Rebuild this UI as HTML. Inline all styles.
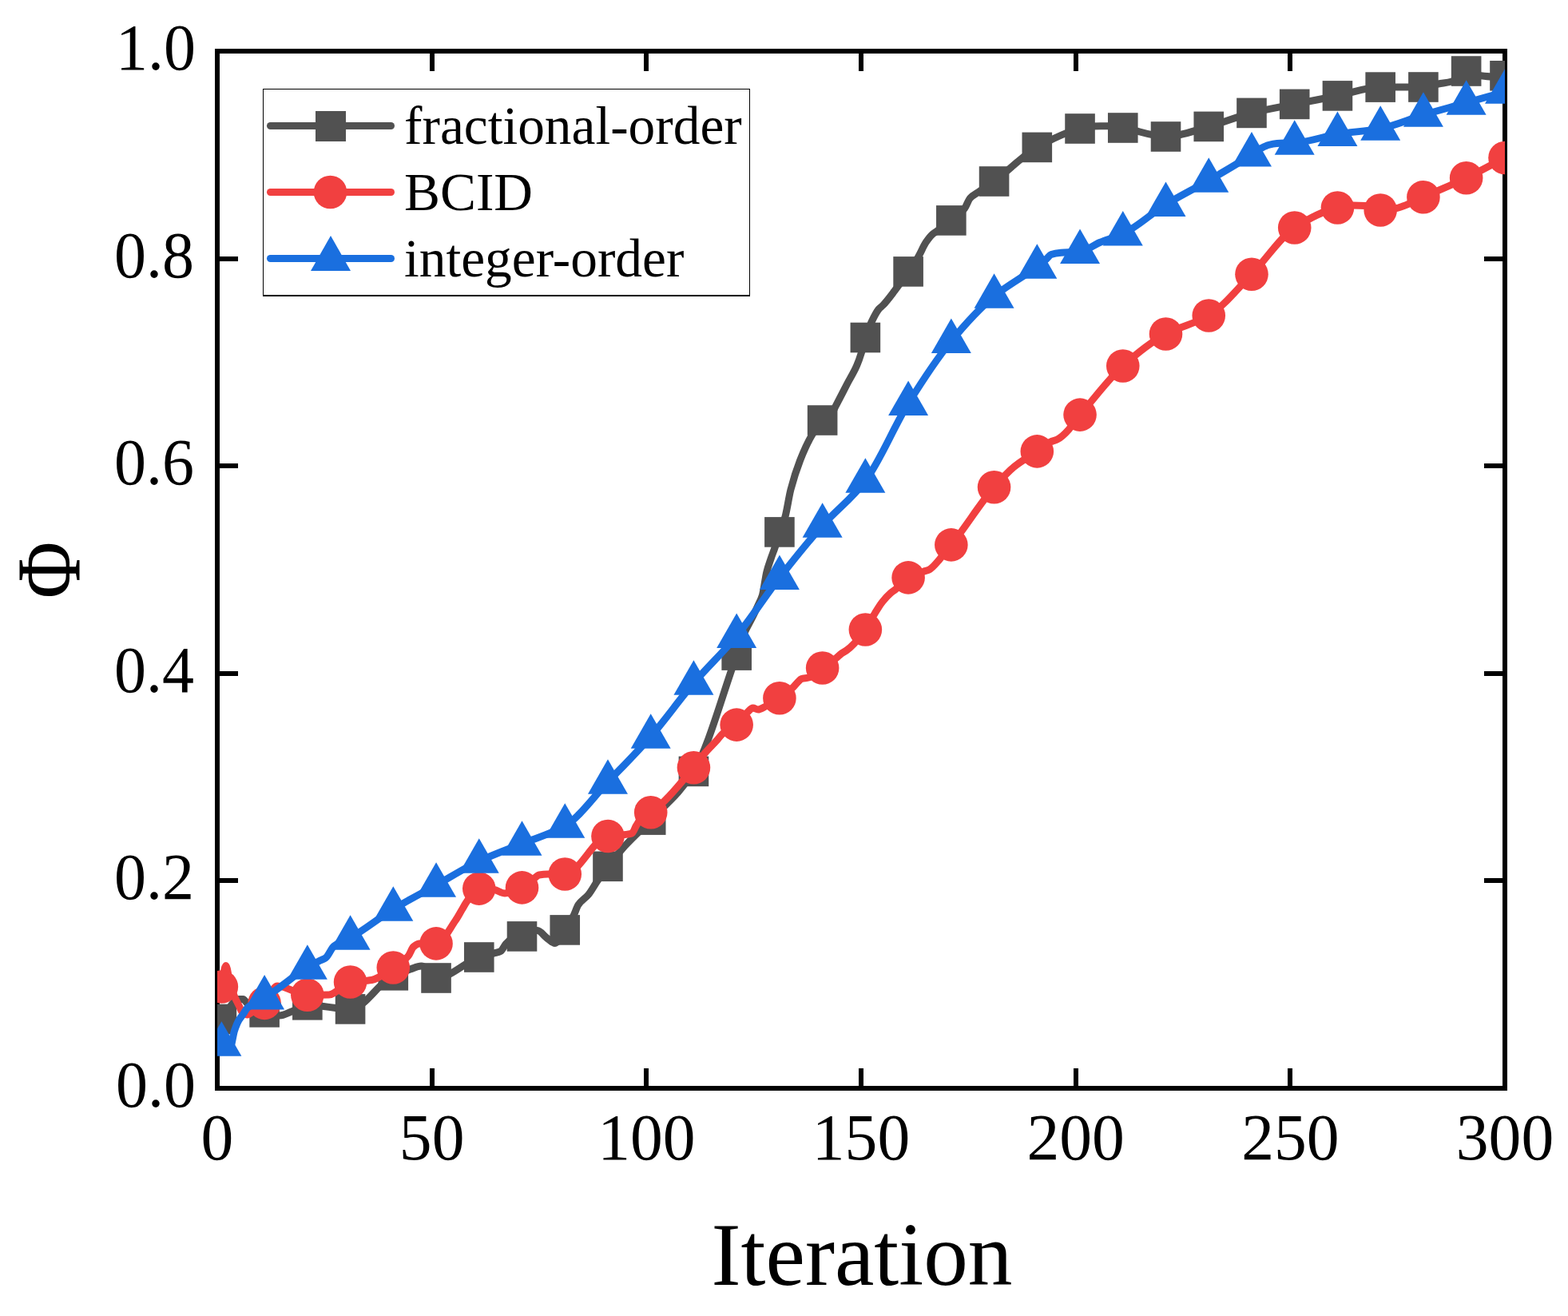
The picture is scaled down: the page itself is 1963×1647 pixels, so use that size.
<!DOCTYPE html>
<html lang="en"><head><meta charset="utf-8"><title>Phi vs Iteration</title>
<style>
html,body{margin:0;padding:0;background:#fff;}
body{width:1963px;height:1647px;overflow:hidden;}
svg{display:block;}
text{font-family:"Liberation Serif","Times New Roman",Times,serif;fill:#000;}
</style></head><body>
<svg width="1963" height="1647" viewBox="0 0 1963 1647" role="img" aria-label="Phi versus Iteration for fractional-order, BCID and integer-order">
<rect x="0" y="0" width="1963" height="1647" fill="#fff"/>
<defs><clipPath id="plotclip"><rect x="272" y="64" width="1612" height="1298"/></clipPath></defs>
<g id="axes" stroke="#000" stroke-width="6" fill="none" shape-rendering="crispEdges">
<rect x="272" y="64" width="1612" height="1298"/>
<line x1="541" y1="1362" x2="541" y2="1337"/>
<line x1="541" y1="64" x2="541" y2="89"/>
<line x1="809" y1="1362" x2="809" y2="1337"/>
<line x1="809" y1="64" x2="809" y2="89"/>
<line x1="1078" y1="1362" x2="1078" y2="1337"/>
<line x1="1078" y1="64" x2="1078" y2="89"/>
<line x1="1347" y1="1362" x2="1347" y2="1337"/>
<line x1="1347" y1="64" x2="1347" y2="89"/>
<line x1="1615" y1="1362" x2="1615" y2="1337"/>
<line x1="1615" y1="64" x2="1615" y2="89"/>
<line x1="272" y1="1102" x2="298" y2="1102"/>
<line x1="1884" y1="1102" x2="1858" y2="1102"/>
<line x1="272" y1="843" x2="298" y2="843"/>
<line x1="1884" y1="843" x2="1858" y2="843"/>
<line x1="272" y1="583" x2="298" y2="583"/>
<line x1="1884" y1="583" x2="1858" y2="583"/>
<line x1="272" y1="324" x2="298" y2="324"/>
<line x1="1884" y1="324" x2="1858" y2="324"/>
</g>
<g id="xticklabels" font-size="81.6" text-anchor="middle">
<text x="272.00" y="1450.8">0</text>
<text x="540.67" y="1450.8">50</text>
<text x="809.33" y="1450.8">100</text>
<text x="1078.00" y="1450.8">150</text>
<text x="1346.67" y="1450.8">200</text>
<text x="1615.33" y="1450.8">250</text>
<text x="1884.00" y="1450.8">300</text>
</g>
<g id="yticklabels" font-size="81.6" text-anchor="end">
<text transform="translate(245.00 1385.00) scale(0.98 1)">0.0</text>
<text transform="translate(243.00 1125.40) scale(0.98 1)">0.2</text>
<text transform="translate(243.00 865.80) scale(0.98 1)">0.4</text>
<text transform="translate(243.00 606.20) scale(0.98 1)">0.6</text>
<text transform="translate(243.00 346.60) scale(0.98 1)">0.8</text>
<text transform="translate(245.00 87.00) scale(0.98 1)">1.0</text>
</g>
<text id="xtitle" x="1079" y="1608" font-size="111.3" text-anchor="middle">Iteration</text>
<text id="ytitle" transform="translate(98.6 713.4) rotate(-90) scale(0.874 1.03)" font-size="111.3" text-anchor="middle">Φ</text>
<g id="data" clip-path="url(#plotclip)">
<g id="s-gray" fill="#515151">
<path d="M277.37 1275.50 C284.54 1267.17 291.70 1250.50 298.87 1250.50 C300.66 1250.50 302.45 1250.50 304.24 1250.50 C306.03 1250.50 307.82 1254.09 309.61 1256.00 C311.40 1257.91 313.20 1261.05 314.99 1262.00 C320.36 1264.84 325.73 1265.53 331.11 1266.90 C337.38 1268.50 343.64 1271.00 349.91 1271.00 C354.93 1271.00 359.94 1267.84 364.96 1266.00 C371.59 1263.57 378.21 1257.80 384.84 1257.80 C402.75 1257.80 420.66 1262.90 438.57 1262.90 C456.48 1262.90 474.40 1229.24 492.31 1220.80 C499.47 1217.42 506.64 1215.33 513.80 1213.00 C518.28 1211.55 522.76 1209.00 527.23 1209.00 C530.82 1209.00 534.40 1211.52 537.98 1214.00 C540.67 1215.86 543.35 1224.00 546.04 1224.00 C563.95 1224.00 581.86 1203.87 599.77 1198.00 C606.04 1195.94 612.31 1194.81 618.58 1193.00 C621.27 1192.22 623.95 1191.88 626.64 1190.50 C628.97 1189.31 631.30 1183.41 633.63 1181.00 C636.67 1177.85 639.72 1174.28 642.76 1173.50 C646.34 1172.58 649.92 1172.64 653.51 1171.90 C659.95 1170.57 666.40 1164.50 672.85 1164.50 C676.61 1164.50 680.37 1170.80 684.13 1173.50 C687.72 1176.07 691.30 1180.50 694.88 1180.50 C697.21 1180.50 699.54 1176.94 701.87 1174.00 C703.66 1171.74 705.45 1167.09 707.24 1163.90 C711.00 1157.19 714.76 1152.47 718.52 1145.00 C720.32 1141.44 722.11 1135.16 723.90 1132.50 C728.20 1126.11 732.49 1124.76 736.79 1119.50 C740.38 1115.11 743.96 1108.24 747.54 1103.00 C752.02 1096.45 756.50 1090.11 760.97 1084.30 C768.14 1075.01 775.30 1066.38 782.47 1058.50 C793.21 1046.67 803.96 1037.48 814.71 1026.10 C832.62 1007.14 850.53 993.94 868.44 965.40 C886.35 936.86 904.26 869.58 922.17 820.10 C925.76 810.20 929.34 798.09 932.92 790.00 C934.71 785.96 936.50 783.00 938.29 779.50 C940.08 776.00 941.88 772.66 943.67 769.00 C945.46 765.34 947.25 761.49 949.04 757.50 C950.83 753.51 952.62 750.82 954.41 745.00 C956.20 739.18 958.00 723.14 959.79 716.00 C961.58 708.86 963.37 704.31 965.16 699.00 C966.95 693.69 968.74 689.47 970.53 684.00 C972.32 678.53 974.12 671.30 975.91 665.90 C978.24 658.88 980.56 655.10 982.89 647.00 C985.22 638.90 987.55 622.04 989.88 613.00 C993.82 597.70 997.76 586.07 1001.70 576.00 C1006.53 563.64 1011.37 553.21 1016.21 545.00 C1020.68 537.40 1025.16 529.94 1029.64 526.00 C1033.22 522.85 1036.80 522.63 1040.39 519.00 C1042.36 517.01 1044.33 511.72 1046.30 508.00 C1051.13 498.86 1055.97 489.27 1060.81 480.00 C1064.75 472.45 1068.69 466.61 1072.63 457.50 C1074.60 452.94 1076.57 447.39 1078.54 441.00 C1080.15 435.77 1081.76 427.51 1083.37 422.50 C1085.88 414.71 1088.39 408.60 1090.90 403.30 C1093.94 396.87 1096.99 390.63 1100.03 387.00 C1101.82 384.87 1103.61 383.86 1105.40 382.00 C1110.24 376.97 1115.08 370.35 1119.91 364.00 C1125.64 356.47 1131.38 348.17 1137.11 339.90 C1141.32 333.83 1145.52 328.25 1149.73 321.20 C1152.87 315.95 1156.00 307.98 1159.14 303.30 C1161.82 299.29 1164.51 295.68 1167.20 293.30 C1168.99 291.72 1170.78 290.86 1172.57 289.50 C1175.97 286.92 1179.38 283.43 1182.78 281.00 C1185.47 279.08 1188.15 277.85 1190.84 275.90 C1196.39 271.86 1201.94 268.05 1207.50 261.00 C1209.83 258.05 1212.15 250.51 1214.48 248.00 C1218.42 243.75 1222.36 242.27 1226.30 239.50 C1232.39 235.22 1238.48 231.42 1244.57 227.00 C1262.48 214.00 1280.40 194.47 1298.31 184.40 C1316.22 174.33 1334.13 165.36 1352.04 161.00 C1357.41 159.69 1362.79 158.10 1368.16 158.00 C1375.32 157.87 1382.49 157.80 1389.65 157.80 C1395.03 157.80 1400.40 159.15 1405.77 160.00 C1423.68 162.83 1441.60 171.00 1459.51 171.00 C1477.42 171.00 1495.33 163.22 1513.24 158.40 C1531.15 153.58 1549.06 145.85 1566.97 141.40 C1584.88 136.95 1602.80 133.98 1620.71 130.40 C1638.62 126.82 1656.53 123.45 1674.44 119.90 C1692.35 116.35 1710.26 109.17 1728.17 109.10 C1746.08 109.03 1764.00 109.08 1781.91 109.00 C1788.18 108.97 1794.44 106.22 1800.71 105.00 C1806.27 103.92 1811.82 103.52 1817.37 102.00 C1820.77 101.07 1824.18 99.26 1827.58 97.00 C1830.27 95.21 1832.95 89.00 1835.64 89.00 C1839.22 89.00 1842.80 91.97 1846.39 93.00 C1848.89 93.72 1851.40 94.47 1853.91 94.80 C1858.57 95.42 1863.22 96.00 1867.88 96.00 C1873.25 96.00 1878.63 95.20 1884.00 94.80" fill="none" stroke="#515151" stroke-width="9" stroke-linejoin="round" stroke-linecap="round"/>
<rect x="258.57" y="1256.70" width="37.60" height="37.60"/>
<rect x="312.31" y="1248.10" width="37.60" height="37.60"/>
<rect x="366.04" y="1239.00" width="37.60" height="37.60"/>
<rect x="419.77" y="1244.10" width="37.60" height="37.60"/>
<rect x="473.51" y="1202.00" width="37.60" height="37.60"/>
<rect x="527.24" y="1205.20" width="37.60" height="37.60"/>
<rect x="580.97" y="1179.20" width="37.60" height="37.60"/>
<rect x="634.71" y="1153.10" width="37.60" height="37.60"/>
<rect x="688.44" y="1145.10" width="37.60" height="37.60"/>
<rect x="742.17" y="1065.50" width="37.60" height="37.60"/>
<rect x="795.91" y="1007.30" width="37.60" height="37.60"/>
<rect x="849.64" y="946.60" width="37.60" height="37.60"/>
<rect x="903.37" y="801.30" width="37.60" height="37.60"/>
<rect x="957.11" y="647.10" width="37.60" height="37.60"/>
<rect x="1010.84" y="507.20" width="37.60" height="37.60"/>
<rect x="1064.57" y="403.70" width="37.60" height="37.60"/>
<rect x="1118.31" y="321.10" width="37.60" height="37.60"/>
<rect x="1172.04" y="257.10" width="37.60" height="37.60"/>
<rect x="1225.77" y="208.20" width="37.60" height="37.60"/>
<rect x="1279.51" y="165.60" width="37.60" height="37.60"/>
<rect x="1333.24" y="142.20" width="37.60" height="37.60"/>
<rect x="1386.97" y="141.20" width="37.60" height="37.60"/>
<rect x="1440.71" y="152.20" width="37.60" height="37.60"/>
<rect x="1494.44" y="139.60" width="37.60" height="37.60"/>
<rect x="1548.17" y="122.60" width="37.60" height="37.60"/>
<rect x="1601.91" y="111.60" width="37.60" height="37.60"/>
<rect x="1655.64" y="101.10" width="37.60" height="37.60"/>
<rect x="1709.37" y="90.30" width="37.60" height="37.60"/>
<rect x="1763.11" y="90.20" width="37.60" height="37.60"/>
<rect x="1816.84" y="70.20" width="37.60" height="37.60"/>
<rect x="1865.20" y="76.00" width="37.60" height="37.60"/>
</g>
<g id="s-red" fill="#F14040">
<path d="M277.37 1235.00 C279.16 1226.17 280.96 1208.50 282.75 1208.50 C284.54 1208.50 286.33 1225.90 288.12 1232.00 C289.91 1238.10 291.70 1242.77 293.49 1247.00 C295.28 1251.23 297.08 1254.51 298.87 1258.00 C300.66 1261.49 302.45 1266.89 304.24 1268.00 C306.03 1269.11 307.82 1270.00 309.61 1270.00 C311.40 1270.00 313.20 1268.25 314.99 1267.00 C316.78 1265.75 318.57 1263.36 320.36 1262.00 C323.94 1259.29 327.52 1258.34 331.11 1255.40 C336.48 1251.00 341.85 1234.00 347.23 1234.00 C359.76 1234.00 372.30 1245.30 384.84 1245.30 C393.80 1245.30 402.75 1245.20 411.71 1245.00 C420.66 1244.80 429.62 1230.44 438.57 1229.00 C447.53 1227.56 456.48 1227.94 465.44 1226.50 C474.40 1225.06 483.35 1216.53 492.31 1211.00 C495.89 1208.79 499.47 1206.77 503.05 1204.00 C505.74 1201.92 508.43 1199.82 511.11 1196.50 C513.26 1193.84 515.41 1186.88 517.56 1185.00 C519.89 1182.97 522.22 1181.21 524.55 1181.00 C528.13 1180.67 531.71 1180.50 535.29 1180.50 C538.88 1180.50 542.46 1180.90 546.04 1180.90 C554.10 1180.90 562.16 1163.57 570.22 1152.00 C572.91 1148.14 575.59 1142.96 578.28 1138.50 C580.61 1134.63 582.94 1130.03 585.27 1127.00 C590.10 1120.71 594.94 1112.10 599.77 1112.10 C606.04 1112.10 612.31 1112.71 618.58 1113.50 C623.06 1114.07 627.54 1118.00 632.01 1118.00 C635.60 1118.00 639.18 1116.15 642.76 1115.00 C646.34 1113.85 649.92 1112.68 653.51 1110.90 C657.98 1108.67 662.46 1104.32 666.94 1101.00 C669.63 1099.01 672.31 1095.46 675.00 1095.00 C678.58 1094.38 682.16 1094.00 685.75 1094.00 C689.33 1094.00 692.91 1094.00 696.49 1094.00 C700.08 1094.00 703.66 1094.00 707.24 1094.00 C725.15 1094.00 743.06 1048.60 760.97 1046.50 C765.45 1045.97 769.93 1045.92 774.41 1045.50 C777.45 1045.22 780.50 1044.85 783.54 1044.40 C786.05 1044.03 788.56 1043.88 791.06 1043.00 C792.86 1042.37 794.65 1036.38 796.44 1033.50 C798.94 1029.47 801.45 1024.51 803.96 1022.50 C807.54 1019.63 811.12 1019.15 814.71 1016.80 C832.62 1005.05 850.53 981.79 868.44 960.70 C873.28 955.01 878.11 947.65 882.95 942.00 C887.78 936.35 892.62 931.92 897.46 926.50 C899.61 924.09 901.75 921.04 903.90 919.00 C907.31 915.77 910.71 913.02 914.11 911.00 C916.80 909.41 919.49 908.87 922.17 907.10 C926.65 904.14 931.13 895.62 935.61 891.50 C937.94 889.36 940.26 886.00 942.59 886.00 C944.74 886.00 946.89 888.00 949.04 888.00 C951.91 888.00 954.77 885.85 957.64 884.50 C963.73 881.64 969.82 877.92 975.91 873.80 C981.55 869.98 987.19 865.69 992.83 860.30 C994.89 858.33 996.95 855.46 999.01 853.40 C1000.36 852.06 1001.70 850.15 1003.04 849.70 C1006.18 848.66 1009.31 848.85 1012.45 848.00 C1015.49 847.17 1018.54 845.05 1021.58 843.00 C1024.27 841.19 1026.95 838.14 1029.64 836.00 C1035.19 831.58 1040.74 828.40 1046.30 824.00 C1048.63 822.15 1050.95 819.67 1053.28 818.00 C1055.43 816.45 1057.58 815.56 1059.73 814.00 C1062.95 811.66 1066.18 808.68 1069.40 805.30 C1071.91 802.67 1074.42 799.11 1076.93 796.00 C1079.07 793.34 1081.22 791.07 1083.37 788.00 C1086.78 783.14 1090.18 775.84 1093.58 770.30 C1097.34 764.17 1101.11 757.71 1104.87 753.00 C1108.09 748.97 1111.31 745.56 1114.54 742.70 C1116.87 740.63 1119.20 739.24 1121.52 737.30 C1124.21 735.06 1126.90 732.48 1129.58 730.00 C1132.09 727.68 1134.60 724.12 1137.11 722.90 C1140.69 721.15 1144.27 720.91 1147.85 719.50 C1150.54 718.44 1153.23 716.44 1155.91 715.40 C1158.24 714.50 1160.57 714.25 1162.90 713.20 C1167.38 711.17 1171.85 705.13 1176.33 700.00 C1178.84 697.13 1181.35 693.10 1183.85 690.00 C1186.18 687.12 1188.51 684.74 1190.84 681.90 C1208.75 660.03 1226.66 630.24 1244.57 609.80 C1252.99 600.19 1261.41 590.85 1269.83 584.00 C1279.32 576.28 1288.81 571.49 1298.31 564.90 C1303.86 561.05 1309.41 555.51 1314.96 553.00 C1317.83 551.70 1320.70 551.37 1323.56 550.00 C1328.40 547.68 1333.23 542.97 1338.07 537.50 C1340.40 534.87 1342.73 530.01 1345.05 527.00 C1347.38 523.99 1349.71 521.74 1352.04 519.10 C1369.95 498.80 1387.86 474.12 1405.77 458.00 C1423.68 441.88 1441.60 427.74 1459.51 418.00 C1477.42 408.26 1495.33 405.62 1513.24 395.00 C1531.15 384.38 1549.06 361.47 1566.97 343.20 C1584.88 324.93 1602.80 296.66 1620.71 285.00 C1638.62 273.34 1656.53 263.95 1674.44 260.00 C1680.71 258.62 1686.98 257.00 1693.25 257.00 C1698.62 257.00 1703.99 257.20 1709.37 257.50 C1715.64 257.84 1721.90 263.00 1728.17 263.00 C1733.55 263.00 1738.92 262.28 1744.29 261.50 C1747.88 260.98 1751.46 259.68 1755.04 258.50 C1759.52 257.02 1764.00 254.94 1768.47 253.00 C1772.95 251.06 1777.43 248.84 1781.91 246.80 C1799.82 238.63 1817.73 231.35 1835.64 222.70 C1851.76 214.92 1867.88 205.90 1884.00 197.50" fill="none" stroke="#F14040" stroke-width="9" stroke-linejoin="round" stroke-linecap="round"/>
<circle cx="277.37" cy="1235.00" r="20.80"/>
<circle cx="331.11" cy="1255.40" r="20.80"/>
<circle cx="384.84" cy="1245.30" r="20.80"/>
<circle cx="438.57" cy="1229.00" r="20.80"/>
<circle cx="492.31" cy="1211.00" r="20.80"/>
<circle cx="546.04" cy="1180.90" r="20.80"/>
<circle cx="599.77" cy="1112.10" r="20.80"/>
<circle cx="653.51" cy="1110.90" r="20.80"/>
<circle cx="707.24" cy="1094.00" r="20.80"/>
<circle cx="760.97" cy="1046.50" r="20.80"/>
<circle cx="814.71" cy="1016.80" r="20.80"/>
<circle cx="868.44" cy="960.70" r="20.80"/>
<circle cx="922.17" cy="907.10" r="20.80"/>
<circle cx="975.91" cy="873.80" r="20.80"/>
<circle cx="1029.64" cy="836.00" r="20.80"/>
<circle cx="1083.37" cy="788.00" r="20.80"/>
<circle cx="1137.11" cy="722.90" r="20.80"/>
<circle cx="1190.84" cy="681.90" r="20.80"/>
<circle cx="1244.57" cy="609.80" r="20.80"/>
<circle cx="1298.31" cy="564.90" r="20.80"/>
<circle cx="1352.04" cy="519.10" r="20.80"/>
<circle cx="1405.77" cy="458.00" r="20.80"/>
<circle cx="1459.51" cy="418.00" r="20.80"/>
<circle cx="1513.24" cy="395.00" r="20.80"/>
<circle cx="1566.97" cy="343.20" r="20.80"/>
<circle cx="1620.71" cy="285.00" r="20.80"/>
<circle cx="1674.44" cy="260.00" r="20.80"/>
<circle cx="1728.17" cy="263.00" r="20.80"/>
<circle cx="1781.91" cy="246.80" r="20.80"/>
<circle cx="1835.64" cy="222.70" r="20.80"/>
<circle cx="1884.00" cy="197.50" r="20.80"/>
</g>
<g id="s-blue" fill="#1A6FDF">
<path d="M277.37 1306.70 C279.16 1308.13 280.96 1311.00 282.75 1311.00 C284.54 1311.00 286.33 1311.00 288.12 1311.00 C289.91 1311.00 291.70 1295.35 293.49 1290.00 C295.28 1284.65 297.08 1280.17 298.87 1277.00 C300.66 1273.83 302.45 1272.08 304.24 1269.50 C306.03 1266.92 307.82 1263.27 309.61 1261.50 C313.20 1257.95 316.78 1256.12 320.36 1254.00 C323.94 1251.88 327.52 1250.55 331.11 1248.50 C349.02 1238.25 366.93 1221.39 384.84 1210.70 C390.21 1207.49 395.59 1204.66 400.96 1202.00 C403.11 1200.94 405.26 1200.44 407.41 1199.00 C410.99 1196.60 414.57 1186.79 418.15 1184.00 C424.96 1178.70 431.77 1177.53 438.57 1173.70 C456.48 1163.61 474.40 1148.70 492.31 1137.80 C510.22 1126.90 528.13 1117.80 546.04 1107.80 C563.95 1097.80 581.86 1086.26 599.77 1077.80 C617.68 1069.34 635.60 1063.15 653.51 1055.80 C671.42 1048.45 689.33 1044.21 707.24 1033.70 C725.15 1023.19 743.06 997.36 760.97 978.70 C778.88 960.04 796.80 942.22 814.71 921.70 C832.62 901.18 850.53 875.66 868.44 854.80 C886.35 833.94 904.26 817.71 922.17 796.00 C940.08 774.29 958.00 745.98 975.91 723.00 C993.82 700.02 1011.73 677.80 1029.64 657.70 C1047.55 637.60 1065.46 625.35 1083.37 601.70 C1101.28 578.05 1119.20 533.68 1137.11 504.90 C1155.02 476.12 1172.93 448.76 1190.84 427.00 C1208.75 405.24 1226.66 385.70 1244.57 370.80 C1262.48 355.90 1280.40 347.38 1298.31 333.70 C1302.25 330.69 1306.19 327.46 1310.13 324.00 C1312.10 322.27 1314.07 319.14 1316.04 318.50 C1320.16 317.16 1324.28 316.68 1328.40 316.30 C1332.70 315.90 1336.99 315.75 1341.29 315.50 C1344.88 315.29 1348.46 315.22 1352.04 314.90 C1360.28 314.16 1368.52 306.92 1376.76 303.50 C1386.43 299.48 1396.10 297.16 1405.77 292.60 C1423.68 284.16 1441.60 266.92 1459.51 255.90 C1477.42 244.88 1495.33 236.17 1513.24 225.80 C1531.15 215.43 1549.06 205.08 1566.97 193.60 C1571.09 190.96 1575.21 187.47 1579.33 185.30 C1582.20 183.79 1585.06 182.26 1587.93 181.50 C1591.51 180.55 1595.09 179.76 1598.68 179.50 C1602.44 179.23 1606.20 179.13 1609.96 179.00 C1613.54 178.88 1617.12 178.85 1620.71 178.70 C1638.62 177.95 1656.53 170.76 1674.44 167.90 C1692.35 165.04 1710.26 164.14 1728.17 160.80 C1746.08 157.46 1764.00 149.13 1781.91 143.80 C1799.82 138.47 1817.73 133.79 1835.64 128.70 C1851.76 124.12 1867.88 119.43 1884.00 114.80" fill="none" stroke="#1A6FDF" stroke-width="9" stroke-linejoin="round" stroke-linecap="round"/>
<path d="M277.37 1278.20 L302.37 1321.70 L252.37 1321.70 Z"/>
<path d="M331.11 1220.00 L356.11 1263.50 L306.11 1263.50 Z"/>
<path d="M384.84 1182.20 L409.84 1225.70 L359.84 1225.70 Z"/>
<path d="M438.57 1145.20 L463.57 1188.70 L413.57 1188.70 Z"/>
<path d="M492.31 1109.30 L517.31 1152.80 L467.31 1152.80 Z"/>
<path d="M546.04 1079.30 L571.04 1122.80 L521.04 1122.80 Z"/>
<path d="M599.77 1049.30 L624.77 1092.80 L574.77 1092.80 Z"/>
<path d="M653.51 1027.30 L678.51 1070.80 L628.51 1070.80 Z"/>
<path d="M707.24 1005.20 L732.24 1048.70 L682.24 1048.70 Z"/>
<path d="M760.97 950.20 L785.97 993.70 L735.97 993.70 Z"/>
<path d="M814.71 893.20 L839.71 936.70 L789.71 936.70 Z"/>
<path d="M868.44 826.30 L893.44 869.80 L843.44 869.80 Z"/>
<path d="M922.17 767.50 L947.17 811.00 L897.17 811.00 Z"/>
<path d="M975.91 694.50 L1000.91 738.00 L950.91 738.00 Z"/>
<path d="M1029.64 629.20 L1054.64 672.70 L1004.64 672.70 Z"/>
<path d="M1083.37 573.20 L1108.37 616.70 L1058.37 616.70 Z"/>
<path d="M1137.11 476.40 L1162.11 519.90 L1112.11 519.90 Z"/>
<path d="M1190.84 398.50 L1215.84 442.00 L1165.84 442.00 Z"/>
<path d="M1244.57 342.30 L1269.57 385.80 L1219.57 385.80 Z"/>
<path d="M1298.31 305.20 L1323.31 348.70 L1273.31 348.70 Z"/>
<path d="M1352.04 286.40 L1377.04 329.90 L1327.04 329.90 Z"/>
<path d="M1405.77 264.10 L1430.77 307.60 L1380.77 307.60 Z"/>
<path d="M1459.51 227.40 L1484.51 270.90 L1434.51 270.90 Z"/>
<path d="M1513.24 197.30 L1538.24 240.80 L1488.24 240.80 Z"/>
<path d="M1566.97 165.10 L1591.97 208.60 L1541.97 208.60 Z"/>
<path d="M1620.71 150.20 L1645.71 193.70 L1595.71 193.70 Z"/>
<path d="M1674.44 139.40 L1699.44 182.90 L1649.44 182.90 Z"/>
<path d="M1728.17 132.30 L1753.17 175.80 L1703.17 175.80 Z"/>
<path d="M1781.91 115.30 L1806.91 158.80 L1756.91 158.80 Z"/>
<path d="M1835.64 100.20 L1860.64 143.70 L1810.64 143.70 Z"/>
<path d="M1884.00 86.30 L1909.00 129.80 L1859.00 129.80 Z"/>
</g>
</g>
<g id="legend">
<rect x="329" y="111" width="610" height="260" fill="#fff"/>
<g fill="#000" shape-rendering="crispEdges"><rect x="329" y="111" width="610" height="1"/><rect x="329" y="111" width="1" height="260"/><rect x="938" y="111" width="1" height="260"/><rect x="329" y="369" width="610" height="2"/></g>
<g fill="#515151">
<line x1="338.5" y1="157.5" x2="489.5" y2="157.5" stroke="#515151" stroke-width="9" stroke-linecap="round"/>
<rect x="395.00" y="139.00" width="38.00" height="38.00"/>
</g>
<text x="506" y="179.6" font-size="67.4">fractional-order</text>
<g fill="#F14040">
<line x1="338.5" y1="240.5" x2="489.5" y2="240.5" stroke="#F14040" stroke-width="9" stroke-linecap="round"/>
<circle cx="413.50" cy="240.50" r="20.80"/>
</g>
<text x="506" y="262.6" font-size="67.4">BCID</text>
<g fill="#1A6FDF">
<line x1="338.5" y1="323.5" x2="489.5" y2="323.5" stroke="#1A6FDF" stroke-width="9" stroke-linecap="round"/>
<path d="M414.00 294.90 L439.00 338.90 L389.00 338.90 Z"/>
</g>
<text x="506" y="345.6" font-size="67.4">integer-order</text>
</g>
</svg></body></html>
